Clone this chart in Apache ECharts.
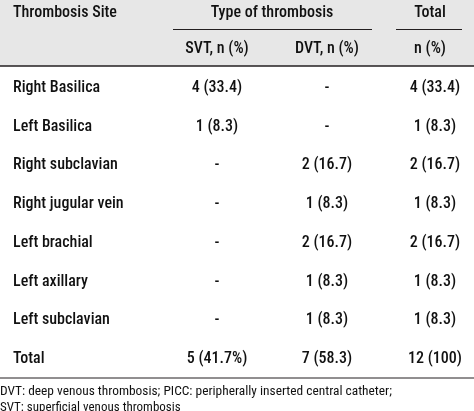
<!DOCTYPE html>
<html>
<head>
<meta charset="utf-8">
<script src="https://cdn.jsdelivr.net/npm/echarts@6/dist/echarts.min.js"></script>
<style>html,body{margin:0;padding:0;background:#fff}#main{width:474px;height:411px}</style>
</head>
<body>
<div id="main"></div>
<script>
const sites = ['Right Basilica', 'Left Basilica', 'Right subclavian', 'Right jugular vein', 'Left brachial', 'Left axillary', 'Left subclavian', 'Total'];
const svt = ['4 (33.4)', '1 (8.3)', '-', '-', '-', '-', '-', '5 (41.7%)'];
const dvt = ['-', '-', '2 (16.7)', '1 (8.3)', '2 (16.7)', '1 (8.3)', '1 (8.3)', '7 (58.3)'];
const total = ['4 (33.4)', '1 (8.3)', '2 (16.7)', '1 (8.3)', '2 (16.7)', '1 (8.3)', '1 (8.3)', '12 (100)'];
const footnotes = ['DVT: deep venous thrombosis; PICC: peripherally inserted central catheter;', 'SVT: superficial venous thrombosis'];

const chart = echarts.init(document.getElementById('main'));
const font = '"Liberation Sans Narrow", "Arial Narrow", "Roboto Condensed", sans-serif';
const txt = (x, y, s, align, size) => ({
    type: 'text', x, y,
    style: { text: s, fill: '#111', font: '500 ' + (size || 16) + 'px ' + font, textAlign: align || 'left', textVerticalAlign: 'middle' }
});
const line = (x1, y1, x2, y2, w) => ({
    type: 'line', shape: { x1, y1, x2, y2 }, style: { stroke: '#231f20', lineWidth: w || 1 }
});

const cols = [217, 327, 435];
const els = [
    { type: 'rect', shape: { x: 0, y: 0, width: 474, height: 66 }, style: { fill: '#e7e7e7' } },
    txt(13, 13, 'Thrombosis Site'),
    txt(272, 13, 'Type of thrombosis', 'center'),
    txt(430, 13, 'Total', 'center'),
    line(173, 29.5, 372, 29.5),
    line(396, 29.5, 462, 29.5),
    txt(cols[0], 49, 'SVT, n (%)', 'center'),
    txt(cols[1], 49, 'DVT, n (%)', 'center'),
    txt(430, 49, 'n (%)', 'center'),
    line(0, 66, 474, 66, 1.5),
    line(0, 378, 474, 378, 1)
];
sites.forEach((s, i) => {
    const y = 88 + i * 38.7;
    els.push(txt(13, y, s), txt(cols[0], y, svt[i], 'center'), txt(cols[1], y, dvt[i], 'center'), txt(cols[2], y, total[i], 'center'));
});
footnotes.forEach((f, i) => {
    els.push({
        type: 'text', x: 0, y: 392 + i * 16,
        style: { text: f, fill: '#111', font: (i === 0 ? 13.4 : 13) + 'px ' + font, textVerticalAlign: 'middle' }
    });
});
chart.setOption({ animation: false, graphic: { elements: els } });
</script>
</body>
</html>
